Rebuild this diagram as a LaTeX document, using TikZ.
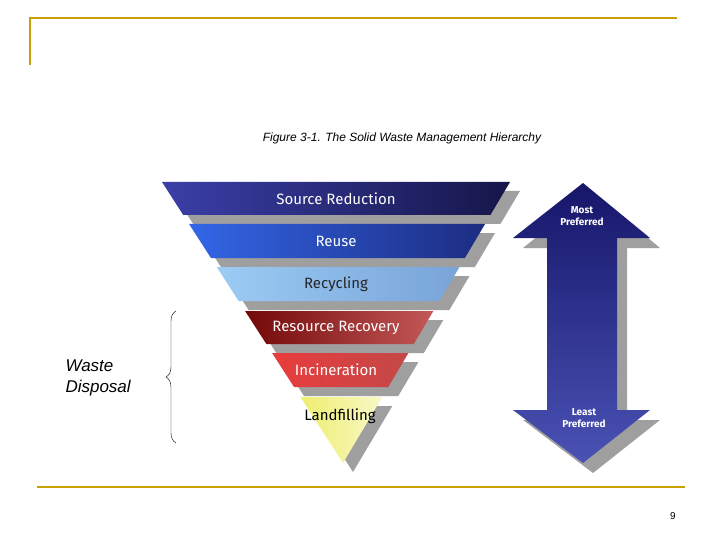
\documentclass[tikz,border=0pt]{standalone}
\usepackage{fontspec}
\setmainfont{Liberation Sans}
\newfontfamily\bandfont{Fira Sans}
\usetikzlibrary{decorations.pathreplacing}
\definecolor{gold}{HTML}{C8A000}
\definecolor{srcL}{HTML}{3B3FA8}\definecolor{srcR}{HTML}{16164A}
\definecolor{reuL}{HTML}{3366E8}\definecolor{reuR}{HTML}{1C2C80}
\definecolor{recL}{HTML}{9CCBF4}\definecolor{recR}{HTML}{78A4D8}
\definecolor{rrL}{HTML}{720808}\definecolor{rrR}{HTML}{C45858}
\definecolor{incL}{HTML}{E83C3C}\definecolor{incR}{HTML}{C44848}
\definecolor{lfL}{HTML}{EEEE70}\definecolor{lfR}{HTML}{F8F8C8}
\definecolor{arT}{HTML}{16166A}\definecolor{arB}{HTML}{4A52B4}
\tikzset{
  lbl/.style={font=\bandfont\fontsize{15}{17}\selectfont},
  shadowc/.style={fill=gray!75,draw=none},
}
\newcommand{\wband}[7]{%
 \fill[shadowc] ({162+0.644*(#1-182)+10},#1+9) -- ({510-0.594*(#1-182)+10},#1+9) -- ({510-0.594*(#2-182)+10},#2+9) -- ({162+0.644*(#2-182)+10},#2+9) -- cycle;
 \shade[left color=#3,right color=#4] ({162+0.644*(#1-182)},#1) -- ({510-0.594*(#1-182)},#1) -- ({510-0.594*(#2-182)},#2) -- ({162+0.644*(#2-182)},#2) -- cycle;
 \node[lbl,text=#6] (#7) at (336,{(#1+#2)/2}) {#5};}
\begin{document}
\begin{tikzpicture}[x=1pt,y=-1pt]
\useasboundingbox (0,0) rectangle (720,540);
\fill[white] (0,0) rectangle (720,540);
\draw[gold,line width=2pt] (30,65) -- (30,18) -- (677,18);
\draw[gold,line width=2pt] (37,487) -- (685,487);
\node (pg) at (673,516) {\fontsize{10}{12}\selectfont 9};
\node (title) at (402,138) {\fontsize{12}{14}\selectfont\itshape Figure 3-1. The Solid Waste Management Hierarchy};
\wband{182}{215}{srcL}{srcR}{Source Reduction}{white}{b1}
\wband{224}{258}{reuL}{reuR}{Reuse}{white}{b2}
\wband{267}{301}{recL}{recR}{Recycling}{black!85}{b3}
\wband{311}{344}{rrL}{rrR}{Resource Recovery}{white}{b4}
\wband{353}{387}{incL}{incR}{Incineration}{white}{b5}
% landfilling
\fill[shadowc] (310.5,406) -- (392.3,406) -- (353,472) -- cycle;
\shade[left color=lfL,right color=lfR] (300.5,397) -- (382.3,397) -- (343,463) -- cycle;
\node[lbl,text=black] (b6) at (340,416) {Landfilling};
% arrow
\fill[shadowc] (593,192) -- (660,248) -- (627,248) -- (627,420) -- (660,420) -- (593,473) -- (523,420) -- (557,420) -- (557,248) -- (523,248) -- cycle;
\shade[top color=arT,bottom color=arB] (583,183) -- (650,238) -- (617,238) -- (617,410) -- (650,410) -- (583,463) -- (513,410) -- (547,410) -- (547,238) -- (513,238) -- cycle;
\node[font=\bandfont\bfseries\fontsize{10}{12}\selectfont,text=white,align=center] (mp) at (582,216) {Most\\Preferred};
\node[font=\bandfont\bfseries\fontsize{10}{12}\selectfont,text=white,align=center] (lp) at (584,418) {Least\\Preferred};
% brace
\draw[decorate,decoration={brace,amplitude=10pt,aspect=0.5}] (176,443) -- node[coordinate](bt){} (176,311);
\node[font=\fontsize{17}{21}\selectfont\itshape,align=left,anchor=west] (wd) at (62,378) {Waste\\Disposal};
\end{tikzpicture}
\end{document}
